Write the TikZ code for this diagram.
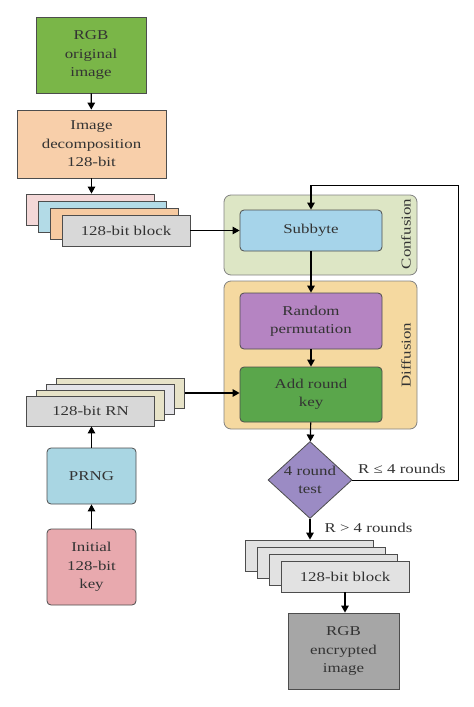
\documentclass[tikz,border=0pt]{standalone}
\usepackage{fontspec}
\setmainfont[FakeStretch=1.25]{Liberation Serif}
\usetikzlibrary{arrows.meta,shapes.geometric}

\definecolor{edgegray}{HTML}{4D4D4D}
\definecolor{txtgray}{HTML}{333333}
\definecolor{origgreen}{HTML}{7AB648}
\definecolor{decpeach}{HTML}{F8CFAA}
\definecolor{blkpink}{HTML}{F4D8D8}
\definecolor{blkblue}{HTML}{B3DBE7}
\definecolor{blkpeach}{HTML}{F6CAA1}
\definecolor{blkgray}{HTML}{D8D8D8}
\definecolor{blkbeige}{HTML}{E7E3C8}
\definecolor{blklight}{HTML}{E4E4E8}
\definecolor{confgreen}{HTML}{DDE6C5}
\definecolor{diffor}{HTML}{F5D9A0}
\definecolor{subblue}{HTML}{A6D4EA}
\definecolor{permpurple}{HTML}{B584C2}
\definecolor{keygreen}{HTML}{5AA64B}
\definecolor{testpurple}{HTML}{9B8BC4}
\definecolor{encgray}{HTML}{A6A6A6}
\definecolor{prngblue}{HTML}{A9D6E3}
\definecolor{initpink}{HTML}{E8A9AE}

\begin{document}
\begin{tikzpicture}[x=1pt, y=-1pt,
	every node/.style={font=\fontsize{13.5}{18.5}\selectfont, text=txtgray, align=center},
	box/.style={draw=edgegray, line width=0.8pt, inner sep=0pt},
	rbox/.style={box, rounded corners=4pt},
	blk/.style={box, minimum width=128pt, minimum height=31pt},
	group/.style={draw=edgegray!70, line width=0.8pt, rounded corners=7pt, inner sep=0pt},
	flow/.style={line width=1.2pt, -{Triangle[length=7pt,width=7.5pt]}},
	wire/.style={line width=1pt}]
	%%%%% START %%%%%
	
	\useasboundingbox (0,0) rectangle (474,707);
	
	% left column
	\node[box, fill=origgreen, minimum width=110pt, minimum height=76pt] (orig) at (91,55) {RGB\\original\\image};
	\node[box, fill=decpeach, minimum width=149pt, minimum height=68pt] (decomp) at (91.5,144) {Image\\decomposition\\128-bit};
	
	\node[blk, fill=blkpink] (in1) at (90,209.5) {};
	\node[blk, fill=blkblue] (in2) at (102,216.5) {};
	\node[blk, fill=blkpeach] (in3) at (114,223.5) {};
	\node[blk, fill=blkgray] (in4) at (126,230.5) {128-bit block};
	
	\node[blk, fill=blkbeige, minimum height=30pt] (rn4) at (120.5,393) {};
	\node[blk, fill=blklight, minimum height=30pt] (rn3) at (110.5,399) {};
	\node[blk, fill=blkbeige, minimum height=30pt] (rn2) at (100.5,405) {};
	\node[blk, fill=blkgray, minimum height=30pt] (rn1) at (90.5,411) {128-bit RN};
	
	\node[rbox, fill=prngblue, minimum width=89pt, minimum height=56pt] (prng) at (91.5,476) {PRNG};
	\node[rbox, fill=initpink, minimum width=89pt, minimum height=76pt] (init) at (91.5,567) {Initial\\128-bit\\key};
	
	% right column
	\node[group, fill=confgreen, minimum width=193pt, minimum height=80pt] (conf) at (320.5,235) {};
	\node[group, fill=diffor, minimum width=193pt, minimum height=148pt] (diff) at (320.5,355) {};
	\node[rotate=90] (conflbl) at (406,234) {Confusion};
	\node[rotate=90] (difflbl) at (406,355) {Diffusion};
	
	\node[rbox, fill=subblue, minimum width=142pt, minimum height=41pt] (sub) at (311,230.5) {Subbyte};
	\node[rbox, fill=permpurple, minimum width=142pt, minimum height=56pt] (perm) at (311,321) {Random\\permutation};
	\node[rbox, fill=keygreen, minimum width=142pt, minimum height=55pt] (addkey) at (311,394.5) {Add round\\key};
	
	\node[diamond, draw=edgegray, line width=0.8pt, fill=testpurple, inner sep=0pt, aspect=1.09, minimum width=84pt, minimum height=77pt] (test) at (310,480) {4 round\\test};
	
	\node[blk, fill=blkgray!75] (out1) at (309,555.5) {};
	\node[blk, fill=blkgray!75] (out2) at (321,562.5) {};
	\node[blk, fill=blkgray!75] (out3) at (333,569.5) {};
	\node[blk, fill=blkgray!75] (out4) at (345,576.5) {128-bit block};
	
	\node[box, fill=encgray, minimum width=111pt, minimum height=76pt] (enc) at (343.5,651) {RGB\\encrypted\\image};
	
	\coordinate (loopr) at (458,480);
	\coordinate (loopt) at (458,185);
	
	% connectors
	\draw[flow] (orig) -- (decomp);
	\draw[flow] (decomp.south) -- (decomp.south |- in1.north);
	\draw[flow] (in4.east) -- (sub.west);
	\draw[flow] (sub) -- (perm);
	\draw[flow] (perm) -- (addkey);
	\draw[flow] (rn4.east) -- (addkey.west |- rn4.east);
	\draw[flow] (addkey) -- (test);
	\draw[flow] (init) -- (prng);
	\draw[flow] (prng.north) -- (prng.north |- rn1.south);
	\draw[wire] (test.east) -- (loopr) -- (loopt) -- (loopt -| sub.north);
	\draw[flow] (loopt -| sub.north) -- (sub.north);
	\draw[flow] (test.south) -- (test.south |- out1.north);
	\draw[flow] (out4.south) -- (out4.south |- enc.north);
	
	\node[anchor=south] (lblle) at (402,477) {R ≤ 4 rounds};
	\node[anchor=west] (lblgt) at (321,528) {R > 4 rounds};
	
	%%%%% END %%%%%
\end{tikzpicture}
\end{document}
